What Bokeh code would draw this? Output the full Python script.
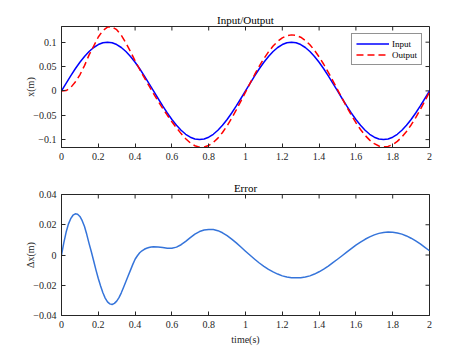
import numpy as np
from bokeh.plotting import figure
from bokeh.layouts import column
from bokeh.models import Range1d, FixedTicker, Legend, LegendItem, ColumnDataSource
from bokeh.embed import file_html
from bokeh.resources import INLINE

# time grid (s) for input / output
time_s = np.linspace(0, 2, 81)

input_x = [0.0000, 0.0156, 0.0309, 0.0454, 0.0588, 0.0707, 0.0809, 0.0891, 0.0951, 0.0988,
           0.1000, 0.0988, 0.0951, 0.0891, 0.0809, 0.0707, 0.0588, 0.0454, 0.0309, 0.0156,
           0.0000, -0.0156, -0.0309, -0.0454, -0.0588, -0.0707, -0.0809, -0.0891, -0.0951, -0.0988,
           -0.1000, -0.0988, -0.0951, -0.0891, -0.0809, -0.0707, -0.0588, -0.0454, -0.0309, -0.0156,
           0.0000, 0.0156, 0.0309, 0.0454, 0.0588, 0.0707, 0.0809, 0.0891, 0.0951, 0.0988,
           0.1000, 0.0988, 0.0951, 0.0891, 0.0809, 0.0707, 0.0588, 0.0454, 0.0309, 0.0156,
           0.0000, -0.0156, -0.0309, -0.0454, -0.0588, -0.0707, -0.0809, -0.0891, -0.0951, -0.0988,
           -0.1000, -0.0988, -0.0951, -0.0891, -0.0809, -0.0707, -0.0588, -0.0454, -0.0309, -0.0156,
           0.0000]

output_x = [0.0000, 0.0006, 0.0069, 0.0182, 0.0330, 0.0519, 0.0739, 0.0921, 0.1106, 0.1238,
            0.1310, 0.1315, 0.1256, 0.1141, 0.0984, 0.0807, 0.0616, 0.0439, 0.0271, 0.0106,
            -0.0054, -0.0209, -0.0358, -0.0499, -0.0633, -0.0759, -0.0877, -0.0981, -0.1066, -0.1126,
            -0.1155, -0.1153, -0.1120, -0.1059, -0.0970, -0.0854, -0.0716, -0.0559, -0.0389, -0.0209,
            -0.0025, 0.0158, 0.0337, 0.0507, 0.0663, 0.0802, 0.0921, 0.1017, 0.1089, 0.1134,
            0.1150, 0.1139, 0.1102, 0.1037, 0.0947, 0.0833, 0.0699, 0.0547, 0.0382, 0.0207,
            0.0028, -0.0151, -0.0328, -0.0496, -0.0653, -0.0792, -0.0913, -0.1011, -0.1084, -0.1131,
            -0.1149, -0.1140, -0.1102, -0.1037, -0.0947, -0.0833, -0.0699, -0.0547, -0.0382, -0.0207,
            -0.0028]

# time grid (s) for the error: finer up to 0.5 s where the error changes fast
error_t = np.concatenate([np.linspace(0, 0.5, 41), np.linspace(0.525, 2.0, 60)])

error_x = [0.0000, 0.0080, 0.0150, 0.0204, 0.0240, 0.0263, 0.0272, 0.0270, 0.0255, 0.0227,
           0.0188, 0.0135, 0.0075, 0.0020, -0.0040, -0.0100, -0.0155, -0.0205, -0.0250, -0.0285,
           -0.0310, -0.0323, -0.0327, -0.0320, -0.0305, -0.0282, -0.0250, -0.0213, -0.0175, -0.0137,
           -0.0100, -0.0062, -0.0028, -0.0005, 0.0015, 0.0028, 0.0038, 0.0045, 0.0050, 0.0053,
           0.0054,
           0.0053, 0.0049, 0.0045, 0.0045, 0.0052, 0.0068, 0.0090, 0.0115, 0.0138,
           0.0155, 0.0165, 0.0169, 0.0168, 0.0161, 0.0147, 0.0128, 0.0105, 0.0080, 0.0053,
           0.0025, -0.0002, -0.0028, -0.0053, -0.0075, -0.0095, -0.0112, -0.0126, -0.0138, -0.0146,
           -0.0150, -0.0151, -0.0151, -0.0146, -0.0138, -0.0126, -0.0111, -0.0093, -0.0073, -0.0051,
           -0.0028, -0.0005, 0.0019, 0.0042, 0.0065, 0.0085, 0.0104, 0.0120, 0.0133, 0.0143,
           0.0149, 0.0152, 0.0151, 0.0146, 0.0138, 0.0126, 0.0111, 0.0093, 0.0073, 0.0051,
           0.0028]

x_ticks = [0, 0.2, 0.4, 0.6, 0.8, 1.0, 1.2, 1.4, 1.6, 1.8, 2.0]
x_tick_labels = ["0", "0.2", "0.4", "0.6", "0.8", "1", "1.2", "1.4", "1.6", "1.8", "2"]
y1_ticks = [-0.1, -0.05, 0, 0.05, 0.1]
y1_tick_labels = ["\u22120.1", "\u22120.05", "0", "0.05", "0.1"]
y2_ticks = [-0.04, -0.02, 0, 0.02, 0.04]
y2_tick_labels = ["\u22120.04", "\u22120.02", "0", "0.02", "0.04"]

FONT = "Liberation Serif"
AX = "#262626"


def style_axis(ax, ticks, labels):
    ax.ticker = FixedTicker(ticks=ticks)
    ax.major_label_overrides = {t: l for t, l in zip(ticks, labels)}
    ax.major_tick_in = 4
    ax.major_tick_out = 0
    ax.minor_tick_in = 0
    ax.minor_tick_out = 0
    ax.axis_line_color = AX
    ax.major_tick_line_color = AX
    ax.axis_line_width = 1
    ax.major_label_text_font = FONT
    ax.major_label_text_font_size = "10px"
    ax.major_label_text_color = AX
    ax.axis_label_text_font = FONT
    ax.axis_label_text_font_size = "10px"
    ax.axis_label_text_font_style = "normal"
    ax.axis_label_text_color = AX
    ax.major_label_standoff = 5


def make_fig(height, top, bottom, yr, title, yticks, ylabels, ylab, xlab=None):
    p = figure(width=474, height=height, output_backend="svg", toolbar_location=None,
               x_range=Range1d(0, 2), y_range=Range1d(*yr), title=title,
               min_border_left=61, min_border_right=45, min_border_top=top,
               min_border_bottom=bottom)
    p.title.text_font = FONT
    p.title.text_font_size = "11px"
    p.title.text_font_style = "normal"
    p.title.align = "center"
    p.title.text_color = "#000000"
    p.title.standoff = 2
    p.grid.visible = False
    p.outline_line_color = AX
    p.background_fill_color = "white"
    p.border_fill_color = "white"
    style_axis(p.xaxis[0], x_ticks, x_tick_labels)
    style_axis(p.yaxis[0], yticks, ylabels)
    p.yaxis[0].axis_label = ylab
    p.yaxis[0].axis_label_standoff = -6
    if xlab:
        p.xaxis[0].axis_label = xlab
        p.xaxis[0].axis_label_standoff = 3
    # inward tick marks on the top and right edges of the box (clipped to the frame)
    p.scatter(x_ticks, [yr[1]] * len(x_ticks), marker="dash", angle=np.pi / 2, size=8,
              line_color=AX, line_width=1)
    p.scatter([2.0] * len(yticks), yticks, marker="dash", size=8, line_color=AX, line_width=1)
    return p


p1 = make_fig(172, 26, 25, (-0.1162, 0.1322), "Input/Output", y1_ticks, y1_tick_labels, "x(m)")
src1 = ColumnDataSource(dict(t=time_s, inp=input_x, out=output_x))
r_in = p1.line("t", "inp", source=src1, line_color="#0000FF", line_width=1.5, line_join="round")
r_out = p1.line("t", "out", source=src1, line_color="#FF0000", line_width=1.5, line_dash="7 4")
legend = Legend(items=[LegendItem(label="Input", renderers=[r_in]),
                       LegendItem(label="Output", renderers=[r_out])],
                location="top_right")
legend.label_text_font = FONT
legend.label_text_font_size = "9px"
legend.label_text_color = "#000000"
legend.border_line_color = AX
legend.border_line_width = 1
legend.glyph_width = 33
legend.glyph_height = 11
legend.label_height = 11
legend.label_standoff = 3
legend.spacing = 0
legend.padding = 4
legend.margin = 7
legend.background_fill_alpha = 1
p1.add_layout(legend)

p2 = make_fig(175, 22, 32, (-0.04, 0.04), "Error", y2_ticks, y2_tick_labels, "\u0394x(m)", "time(s)")
src2 = ColumnDataSource(dict(t=error_t, err=error_x))
p2.line("t", "err", source=src2, line_color="#3574DA", line_width=1.5, line_join="round")

layout = column(p1, p2, spacing=0)
open("out.html", "w").write(file_html(layout, INLINE))
